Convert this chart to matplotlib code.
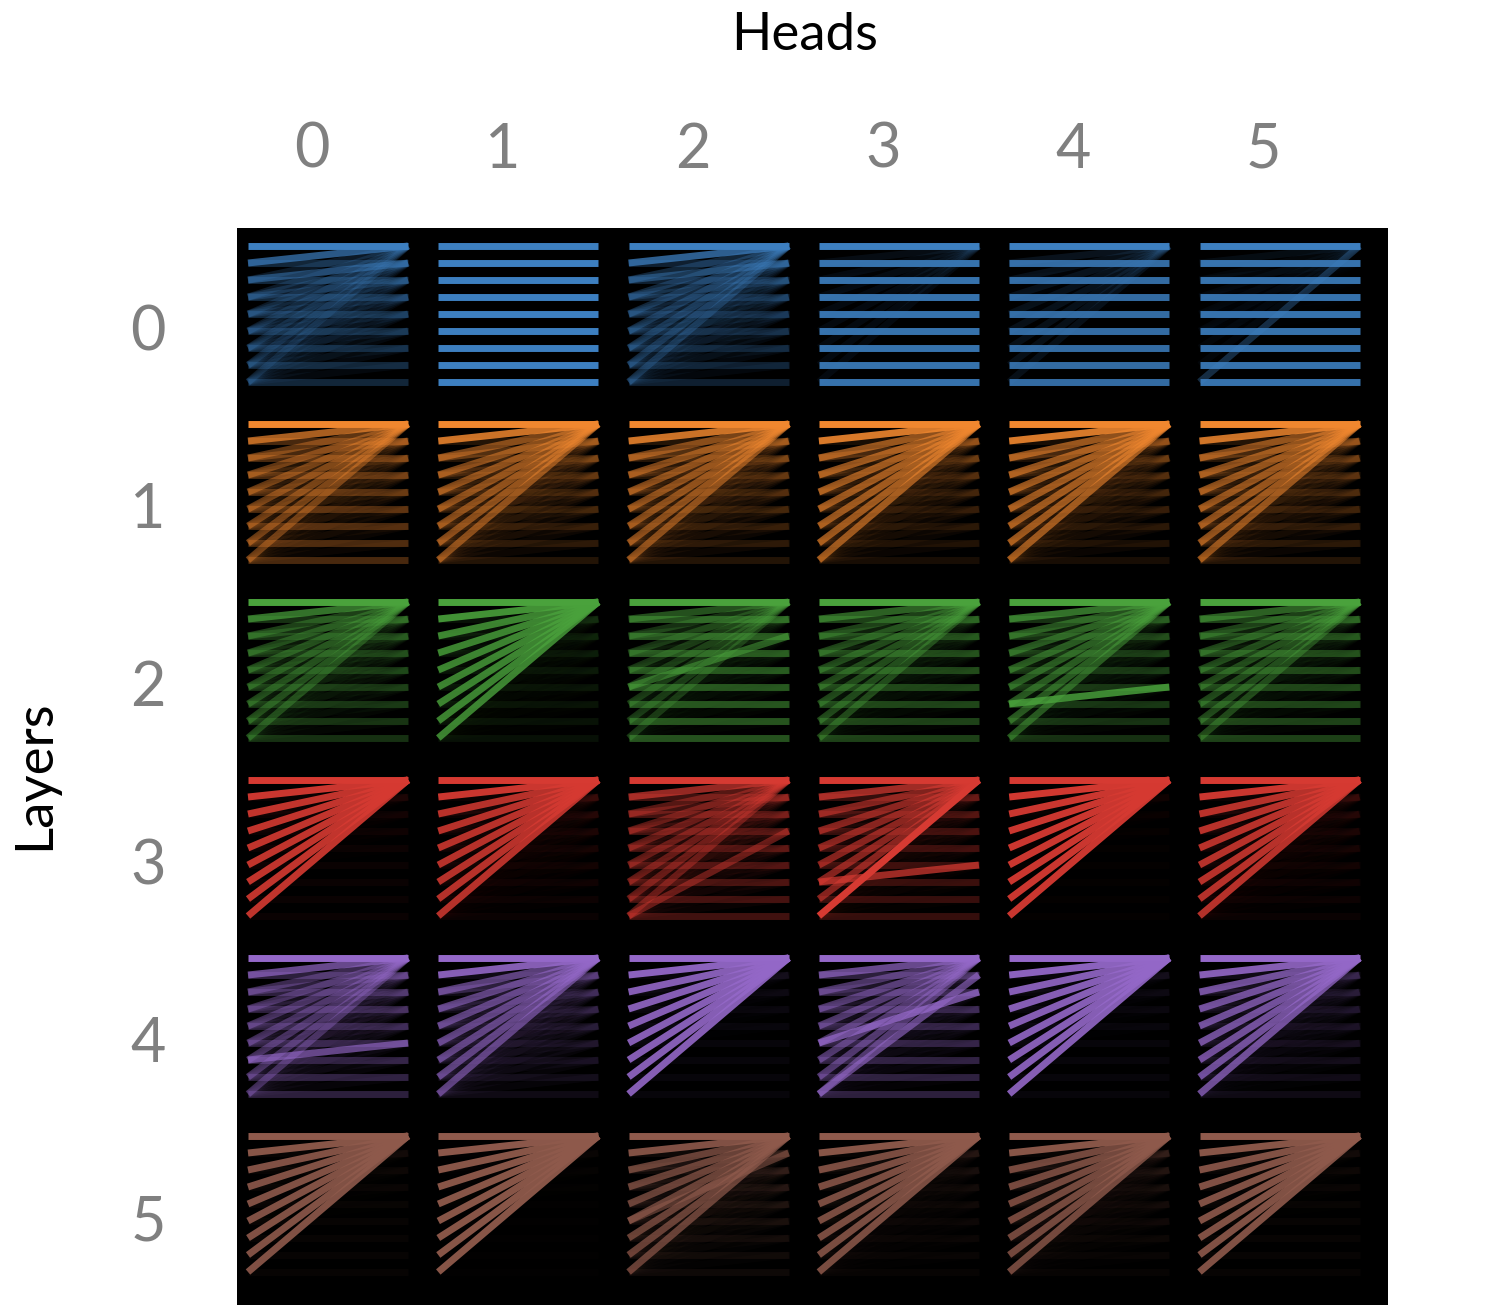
import matplotlib
matplotlib.use("Agg")
import matplotlib.pyplot as plt
import numpy as np

layers = [0, 1, 2, 3, 4, 5]
heads = [0, 1, 2, 3, 4, 5]
n_tokens = 9
layer_colors = ["#3d7fc0", "#f0872f", "#4aa23c", "#d63a32", "#9468c8", "#8f5a4c"]

# attention share per head: to first token, to itself, spread over earlier tokens
first_w = [
    [0.20, 0.00, 0.30, 0.08, 0.12, 0.05],
    [0.40, 0.50, 0.50, 0.60, 0.60, 0.55],
    [0.40, 0.80, 0.30, 0.40, 0.50, 0.40],
    [0.90, 0.85, 0.40, 0.60, 0.95, 0.85],
    [0.40, 0.60, 0.90, 0.50, 0.90, 0.75],
    [0.90, 0.95, 0.70, 0.85, 0.80, 0.90],
]
self_w = [
    [0.30, 1.00, 0.25, 0.90, 0.85, 0.90],
    [0.30, 0.15, 0.15, 0.10, 0.10, 0.15],
    [0.30, 0.10, 0.50, 0.40, 0.30, 0.40],
    [0.05, 0.05, 0.30, 0.25, 0.02, 0.05],
    [0.30, 0.10, 0.05, 0.30, 0.05, 0.10],
    [0.05, 0.02, 0.10, 0.05, 0.05, 0.05],
]
# a few single strong links: (layer, head, source, target, weight)
extra_links = [
    (0, 5, 8, 0, 0.3),
    (2, 4, 6, 5, 0.8),
    (2, 2, 5, 2, 0.5),
    (3, 3, 8, 0, 0.9),
    (3, 3, 6, 5, 0.7),
    (3, 2, 8, 3, 0.4),
    (4, 3, 5, 2, 0.7),
    (4, 3, 8, 1, 0.6),
    (4, 0, 6, 5, 0.6),
    (5, 2, 5, 1, 0.5),
]

fig = plt.figure(figsize=(14.86, 13.16), dpi=100)
ax = fig.add_axes([237 / 1486, 1 - 1305 / 1316, (1388 - 237) / 1486, (1305 - 228) / 1316])
ax.set_facecolor("black")
ax.set_xlim(237, 1388)
ax.set_ylim(1305, 228)
ax.set_xticks([])
ax.set_yticks([])
for s in ax.spines.values():
    s.set_visible(False)

col_step, row_step = 190.3, 178.0
cell_w, tok_step = 160, 17.0
for li in layers:
    for hi in heads:
        x0 = 248 + hi * col_step
        y0 = 246 + li * row_step
        ys = y0 + np.arange(n_tokens) * tok_step
        att = np.zeros((n_tokens, n_tokens))
        for i in range(n_tokens):
            if i == 0:
                att[0, 0] = 1.0
                continue
            f, s = first_w[li][hi], self_w[li][hi]
            rest = max(0.0, 1 - f - s)
            att[i, 0] += f
            att[i, i] += s
            if i > 1:
                att[i, 1:i] += rest / (i - 1)
            else:
                att[i, 0] += rest
        for (l, h, src, dst, w) in extra_links:
            if l == li and h == hi:
                att[src, dst] += w
        for i in range(n_tokens):
            for j in range(n_tokens):
                a = min(1.0, att[i, j])
                if a < 0.01:
                    continue
                ax.plot([x0, x0 + cell_w], [ys[i], ys[j]], color=layer_colors[li],
                        alpha=a, lw=5, solid_capstyle="butt")

font = "Lato"
fig.text(805 / 1486, 1 - 35 / 1316, "Heads", ha="center", va="center", fontsize=38, family=font)
fig.text(35 / 1486, 1 - 775 / 1316, "Layers", ha="center", va="center", fontsize=38,
         rotation=90, family=font)
for hi in heads:
    fig.text((312 + hi * col_step) / 1486, 1 - 150 / 1316, str(hi), ha="center", va="center",
             fontsize=44, color="#808080", family=font)
for li in layers:
    fig.text(148 / 1486, 1 - (333 + li * row_step) / 1316, str(li), ha="center", va="center",
             fontsize=44, color="#808080", family=font)

fig.savefig("out.png", dpi=100, facecolor="white")
